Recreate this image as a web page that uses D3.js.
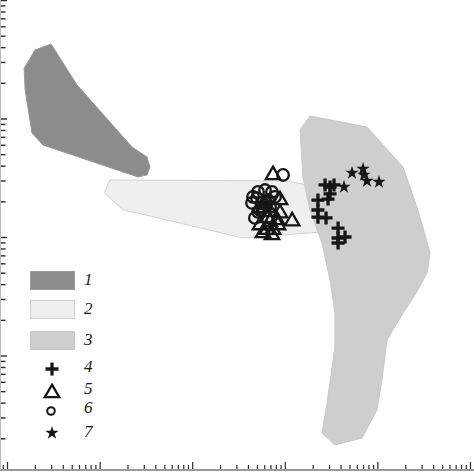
<!DOCTYPE html>
<html>
<head>
<meta charset="utf-8">
<script src="https://cdn.jsdelivr.net/npm/d3@7"></script>
<style>
  html, body { margin: 0; padding: 0; background: #fff; }
  .legend-label { font-family: "Liberation Serif", "Times New Roman", serif; font-style: italic; font-size: 17px; fill: #1a1a1a; }
</style>
</head>
<body>
<div id="chart"></div>
<script>
// field outlines (x, y) in data units, log-log
const field1 = [[2.99, 425], [2.00, 378], [1.69, 300], [1.53, 267], [1.57, 174], [1.86, 75.5], [2.45, 59.7],
                [26.0, 32.1], [32.5, 33.4], [35.0, 39.0], [32.5, 47.3], [22.4, 57.5], [5.70, 192]];
const field2 = [[12.9, 30.3], [1057, 29.7], [1570, 28.0], [2400, 26.9], [2400, 11.0], [354, 9.81],
                [26.0, 15.9], [17.9, 16.9], [11.2, 23.5]];
const field3 = [[1870, 105], [7720, 84.8], [18900, 39.0], [27400, 16.9], [37000, 7.33], [34400, 4.97],
                [25500, 3.24], [18900, 2.28], [12700, 1.35], [11200, 0.621], [9900, 0.347], [6820, 0.201],
                [3480, 0.176], [2520, 0.222], [2860, 0.397], [3480, 1.18], [3480, 2.28], [3080, 4.34],
                [2520, 8.90], [1870, 16.9], [1570, 32.1], [1460, 80.0]];

// sample groups
const group4 = [[2720, 27.5], [3080, 26.4], [3400, 27.5], [2280, 20.5], [2930, 20.9], [3080, 23.1], [2280, 16.9],
                [2280, 14.7], [2790, 14.5], [3760, 11.9], [3760, 9.81], [4470, 10.0], [3760, 8.90]];
const group5 = [[746, 33.4], [888, 20.5], [1200, 13.6], [888, 15.9], [824, 13.9], [540, 12.6], [643, 11.5],
                [746, 11.5], [582, 10.8], [727, 10.4], [845, 12.6], [659, 14.5], [611, 18.6], [692, 16.3],
                [596, 17.6], [692, 13.4]];
const group6 = [[957, 33.4], [454, 21.8], [514, 24.0], [611, 24.9], [727, 24.0], [783, 21.8], [443, 19.4],
                [501, 21.3], [476, 14.5], [567, 19.4], [659, 20.5], [540, 16.9], [692, 17.9],
                [567, 17.9], [627, 19.4], [514, 16.3]];
const group7 = [[4360, 26.4], [5320, 34.7], [7000, 37.5], [7160, 33.4], [7720, 29.7], [10400, 29.1]];

const fieldLabels = ["1", "2", "3"];
const symbolLabels = ["4", "5", "6", "7"];

const width = 474, height = 472;
const svg = d3.select("#chart").append("svg")
    .attr("width", width)
    .attr("height", height);

const x = d3.scaleLog().domain([1, 1e5]).range([7, 470]);
const y = d3.scaleLog().domain([1, 1000]).range([355.5, 0]);

// fields
const fieldStyle = [
    {fill: "#8c8c8c", stroke: "#9a9a9a"},
    {fill: "#efefef", stroke: "#d2d2d2"},
    {fill: "#cecece", stroke: "#c8c8c8"}
];
const line = d3.line().x(d => x(d[0])).y(d => y(d[1])).curve(d3.curveLinearClosed);

[[field2, 1], [field1, 0], [field3, 2]].forEach(([pts, i]) => {
    svg.append("path")
        .attr("d", line(pts))
        .attr("fill", fieldStyle[i].fill)
        .attr("stroke", fieldStyle[i].stroke)
        .attr("stroke-width", 1);
});

// markers
const ink = "#161616";
const crossPath = "M-6.5,0H6.5M0,-6.5V6.5";
const tri = d3.symbol().type(d3.symbolTriangle).size(90)();
const star = d3.symbol().type(d3.symbolStar).size(56)();

svg.append("g").selectAll("path").data(group6).join("path")
    .attr("transform", d => `translate(${x(d[0])},${y(d[1])})`)
    .attr("d", d3.symbol().type(d3.symbolCircle).size(Math.PI * 5.8 * 5.8)())
    .attr("fill", "none").attr("stroke", ink).attr("stroke-width", 2.3);

svg.append("g").selectAll("path").data(group5).join("path")
    .attr("transform", d => `translate(${x(d[0])},${y(d[1])})`)
    .attr("d", tri)
    .attr("fill", "none").attr("stroke", ink).attr("stroke-width", 2.3);

svg.append("g").selectAll("path").data(group4).join("path")
    .attr("transform", d => `translate(${x(d[0])},${y(d[1])})`)
    .attr("d", crossPath)
    .attr("fill", "none").attr("stroke", ink).attr("stroke-width", 3.3);

svg.append("g").selectAll("path").data(group7).join("path")
    .attr("transform", d => `translate(${x(d[0])},${y(d[1])})`)
    .attr("d", star)
    .attr("fill", ink);

// axes (ticks only, no labels)
function logTicks(scale, lo, hi, pmin, pmax) {
    const out = [];
    for (let e = lo; e <= hi; e++) {
        for (let k = 1; k <= 9; k++) {
            const v = k * Math.pow(10, e);
            const p = scale(v);
            if (p >= pmin && p <= pmax) out.push(v);
        }
    }
    return out;
}
const isMajor = v => Math.abs(Math.log10(v) - Math.round(Math.log10(v))) < 1e-9;

const xTicks = logTicks(x, -1, 5, 2, 473);
const yTicks = logTicks(y, -1, 3, 0, 468);

const axisY = 470;
const gx = svg.append("g").attr("transform", `translate(0,${axisY})`)
    .call(d3.axisBottom(x).tickValues(xTicks).tickSize(0).tickFormat(""));
gx.select(".domain").remove();
gx.selectAll(".tick line")
    .attr("y2", d => isMajor(d) ? -8 : -5)
    .attr("stroke", "#2a2a2a").attr("stroke-width", 1.2);
svg.append("line")
    .attr("x1", 0).attr("x2", width).attr("y1", axisY).attr("y2", axisY)
    .attr("stroke", "#9a9a9a").attr("stroke-width", 2);

const gy = svg.append("g").attr("transform", "translate(1,0)")
    .call(d3.axisLeft(y).tickValues(yTicks).tickSize(0).tickFormat(""));
gy.select(".domain").remove();
gy.selectAll(".tick line")
    .attr("x2", d => isMajor(d) ? 6 : 4.5)
    .attr("stroke", "#2a2a2a").attr("stroke-width", 1.4);
svg.append("line")
    .attr("x1", 0.5).attr("x2", 0.5).attr("y1", 0).attr("y2", axisY)
    .attr("stroke", "#bbb").attr("stroke-width", 1);

// legend
const legend = svg.append("g");
const boxY = [271, 300, 331];
fieldLabels.forEach((lab, i) => {
    legend.append("rect")
        .attr("x", 30.5).attr("y", boxY[i] + 0.5)
        .attr("width", 44).attr("height", 18)
        .attr("fill", fieldStyle[i].fill)
        .attr("stroke", fieldStyle[i].stroke);
    legend.append("text").attr("class", "legend-label")
        .attr("x", 84).attr("y", boxY[i] + 14)
        .text(lab);
});

const symY = [369, 393, 411, 433];
const labY = [372, 394, 413, 437];
legend.append("path").attr("transform", `translate(52,${symY[0]})`)
    .attr("d", crossPath).attr("stroke", ink).attr("stroke-width", 3.3).attr("fill", "none");
legend.append("path").attr("transform", `translate(52,${symY[1]})`)
    .attr("d", tri).attr("stroke", ink).attr("stroke-width", 2.3).attr("fill", "none");
legend.append("circle").attr("cx", 51).attr("cy", symY[2]).attr("r", 3.8)
    .attr("stroke", ink).attr("stroke-width", 2).attr("fill", "none");
legend.append("path").attr("transform", `translate(52,${symY[3]})`)
    .attr("d", star).attr("fill", ink);
symbolLabels.forEach((lab, i) => {
    legend.append("text").attr("class", "legend-label")
        .attr("x", 84).attr("y", labY[i])
        .text(lab);
});
</script>
</body>
</html>
